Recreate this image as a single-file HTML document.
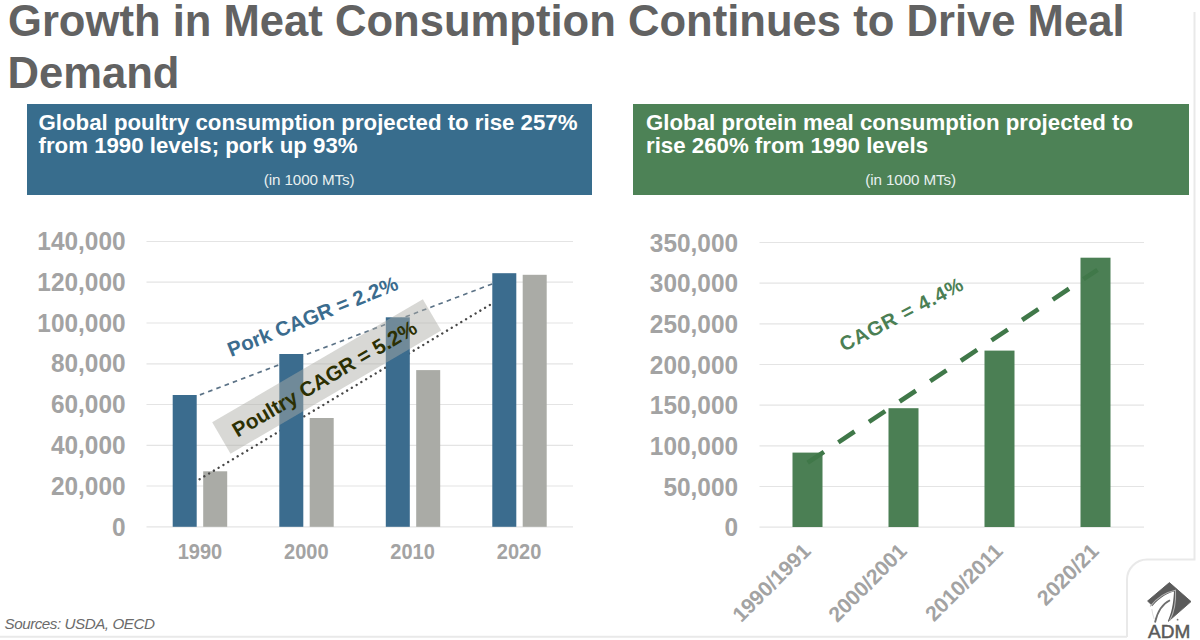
<!DOCTYPE html>
<html><head><meta charset="utf-8">
<style>
html,body{margin:0;padding:0;background:#fff;}
body{width:1200px;height:640px;position:relative;overflow:hidden;font-family:"Liberation Sans",sans-serif;}
.t{position:absolute;white-space:nowrap;}
.title{font-weight:bold;font-size:43.6px;color:#626262;line-height:1;}
.hbox{position:absolute;top:104px;height:90.5px;}
.htxt{font-weight:bold;font-size:22.25px;color:#fff;line-height:1;}
.sub{font-size:15.2px;letter-spacing:-0.1px;color:#e8f0f0;line-height:1;}
svg{position:absolute;left:0;top:0;}
</style></head><body>
<div class="t title" id="t1" style="left:8px;top:0px;">Growth in Meat Consumption Continues to Drive Meal</div>
<div class="t title" id="t2" style="left:7.5px;top:52px;">Demand</div>

<div class="hbox" style="left:26.5px;width:565.5px;background:#386d8d;"></div>
<div class="hbox" style="left:633px;width:556px;background:#4d8256;"></div>
<div class="t htxt" id="h1" style="left:38.5px;top:111.6px;">Global poultry consumption projected to rise 257%</div>
<div class="t htxt" id="h2" style="left:38.5px;top:135.1px;">from 1990 levels; pork up 93%</div>
<div class="t htxt" id="h3" style="left:646px;top:111.6px;">Global protein meal consumption projected to</div>
<div class="t htxt" id="h4" style="left:646px;top:135.1px;">rise 260% from 1990 levels</div>
<div class="t sub" id="s1" style="left:263.8px;top:171.8px;">(in 1000 MTs)</div>
<div class="t sub" id="s2" style="left:865.3px;top:171.8px;">(in 1000 MTs)</div>

<svg width="1200" height="640" viewBox="0 0 1200 640">
 <!-- left chart gridlines -->
 <g stroke="#e4e4e4" stroke-width="1.2">
  <line x1="146.5" x2="573" y1="241.5" y2="241.5"/>
  <line x1="146.5" x2="573" y1="282.2" y2="282.2"/>
  <line x1="146.5" x2="573" y1="323" y2="323"/>
  <line x1="146.5" x2="573" y1="363.8" y2="363.8"/>
  <line x1="146.5" x2="573" y1="404.5" y2="404.5"/>
  <line x1="146.5" x2="573" y1="445.3" y2="445.3"/>
  <line x1="146.5" x2="573" y1="486" y2="486"/>
  <line x1="146.5" x2="573" y1="526.8" y2="526.8"/>
 </g>
 <g font-family="Liberation Sans" font-weight="bold" font-size="24.4" fill="#a3a3a3" text-anchor="end">
  <text transform="translate(125.5 250.2) scale(1 1.03)">140,000</text>
  <text transform="translate(125.5 290.9) scale(1 1.03)">120,000</text>
  <text transform="translate(125.5 331.7) scale(1 1.03)">100,000</text>
  <text transform="translate(125.5 372.4) scale(1 1.03)">80,000</text>
  <text transform="translate(125.5 413.2) scale(1 1.03)">60,000</text>
  <text transform="translate(125.5 453.9) scale(1 1.03)">40,000</text>
  <text transform="translate(125.5 494.7) scale(1 1.03)">20,000</text>
  <text transform="translate(125.5 535.5) scale(1 1.03)">0</text>
 </g>
 <g font-family="Liberation Sans" font-weight="bold" font-size="20" fill="#a3a3a3" text-anchor="middle">
  <text transform="translate(199.9 558.9) scale(1 1.07)">1990</text>
  <text transform="translate(306.3 558.9) scale(1 1.07)">2000</text>
  <text transform="translate(412.6 558.9) scale(1 1.07)">2010</text>
  <text transform="translate(519.1 558.9) scale(1 1.07)">2020</text>
 </g>
 <!-- trend lines -->
 <!-- bars -->
 <g fill="#aaaba6">
  <rect x="203.2" y="471.3" width="24" height="55.5"/>
  <rect x="309.7" y="418" width="24" height="108.8"/>
  <rect x="416.2" y="370.1" width="24" height="156.7"/>
  <rect x="522.7" y="274.8" width="24" height="252"/>
 </g>
 <line x1="199.6" y1="479.2" x2="518" y2="288" stroke="#484848" stroke-width="2.4" stroke-dasharray="0.01 5.54" stroke-linecap="round"/>
 <line x1="199.9" y1="394.9" x2="492.5" y2="283.8" stroke="#5b7286" stroke-width="1.7" stroke-dasharray="4.6 4.2"/>
 <g fill="#3b6c8e">
  <rect x="172.7" y="395" width="24" height="131.8"/>
  <rect x="279.3" y="354" width="24" height="172.8"/>
  <rect x="385.8" y="317.3" width="24" height="209.5"/>
  <rect x="492.3" y="273.2" width="24" height="253.6"/>
 </g>
 <!-- poultry label box -->
 <g transform="translate(326.7 376.4) rotate(-30.3)">
  <rect x="-122" y="-18.2" width="244" height="36.4" fill="rgba(172,172,166,0.47)"/>
  <text x="-3" y="8" text-anchor="middle" font-family="Liberation Sans" font-weight="bold" font-size="20.8" fill="#2c3003">Poultry CAGR = 5.2%</text>
 </g>
 <g transform="translate(312.5 316) rotate(-22)">
  <text x="0" y="7.5" text-anchor="middle" font-family="Liberation Sans" font-weight="bold" font-size="20.5" fill="#3b6c8e">Pork CAGR = 2.2%</text>
 </g>

 <!-- right chart gridlines -->
 <g stroke="#e4e4e4" stroke-width="1.2">
  <line x1="759.5" x2="1144" y1="242.5" y2="242.5"/>
  <line x1="759.5" x2="1144" y1="283.2" y2="283.2"/>
  <line x1="759.5" x2="1144" y1="323.8" y2="323.8"/>
  <line x1="759.5" x2="1144" y1="364.5" y2="364.5"/>
  <line x1="759.5" x2="1144" y1="405.1" y2="405.1"/>
  <line x1="759.5" x2="1144" y1="445.8" y2="445.8"/>
  <line x1="759.5" x2="1144" y1="486.5" y2="486.5"/>
  <line x1="759.5" x2="1144" y1="527.1" y2="527.1"/>
 </g>
 <g font-family="Liberation Sans" font-weight="bold" font-size="24.4" fill="#a3a3a3" text-anchor="end">
  <text transform="translate(738 251.5) scale(1 1.03)">350,000</text>
  <text transform="translate(738 292.2) scale(1 1.03)">300,000</text>
  <text transform="translate(738 332.8) scale(1 1.03)">250,000</text>
  <text transform="translate(738 373.5) scale(1 1.03)">200,000</text>
  <text transform="translate(738 414.1) scale(1 1.03)">150,000</text>
  <text transform="translate(738 454.8) scale(1 1.03)">100,000</text>
  <text transform="translate(738 495.5) scale(1 1.03)">50,000</text>
  <text transform="translate(738 536.1) scale(1 1.03)">0</text>
 </g>
 <g fill="#4b7f54">
  <rect x="792.5" y="452.6" width="30" height="74.4"/>
  <rect x="888.5" y="408.2" width="30" height="118.8"/>
  <rect x="984.5" y="350.6" width="30" height="176.4"/>
  <rect x="1080.5" y="257.7" width="30" height="269.3"/>
 </g>
 <line x1="807.7" y1="462.7" x2="1097.5" y2="269.8" stroke="#407849" stroke-width="4.6" stroke-dasharray="19.5 17.3"/>
 <g transform="translate(901.5 314) rotate(-27.5)">
  <text x="0" y="7.2" text-anchor="middle" font-family="Liberation Sans" font-weight="bold" font-size="20" letter-spacing="0.9" fill="#4b7f54">CAGR = 4.4%</text>
 </g>
 <g font-family="Liberation Sans" font-weight="bold" font-size="21.2" fill="#a3a3a3" text-anchor="end">
  <text transform="translate(812 552.5) rotate(-45)">1990/1991</text>
  <text transform="translate(908 552.5) rotate(-45)">2000/2001</text>
  <text transform="translate(1004 552.5) rotate(-45)">2010/2011</text>
  <text transform="translate(1100 552.5) rotate(-45)">2020/21</text>
 </g>

 <!-- frame lines -->
 <path d="M1194.5 12 V559.6 H1147 A20 20 0 0 0 1127 579.6 V637" fill="none" stroke="#e9e9e9" stroke-width="2"/>
 <line x1="0" y1="636.8" x2="1127" y2="636.8" stroke="#e9e9e9" stroke-width="2"/>
 <!-- ADM logo -->
 <path d="M1147.6 601 L1169.4 582.6 L1191 601.6 L1168.5 621.3 Z" fill="#5b5b5b" stroke="#5b5b5b" stroke-width="0.9" stroke-linejoin="round"/>
 <path d="M1150.8 608.2 C1156 601 1165 593.8 1174 591.6 C1173.6 598 1173 610 1168 620.8 L1160 628 L1142 610 Z" fill="#fff"/>
 <path d="M1150.2 606.4 C1155.5 599.5 1164.8 592.3 1175.5 590.2 C1175.9 598 1175.5 610 1169.6 620.7" fill="none" stroke="#b2b2b2" stroke-width="1.1"/>
 <path d="M1151.8 609 C1152.2 612 1153 616 1154.2 619" fill="none" stroke="#d4d4d4" stroke-width="0.8"/>
 <path d="M1170 600.2 C1163 603.5 1157.5 611 1155 622.5" fill="none" stroke="#6e6e6e" stroke-width="1.8"/>
 <circle cx="1177.6" cy="619.7" r="0.9" fill="#777"/>
 <text x="1148" y="638" font-family="Liberation Sans" font-size="19" fill="#5a5a5a" stroke="#5a5a5a" stroke-width="0.5">ADM</text>
</svg>

<div class="t" id="src" style="left:4.5px;top:616px;font-style:italic;font-size:15.2px;letter-spacing:-0.46px;color:#6b6b6b;line-height:1;">Sources: USDA, OECD</div>
</body></html>
